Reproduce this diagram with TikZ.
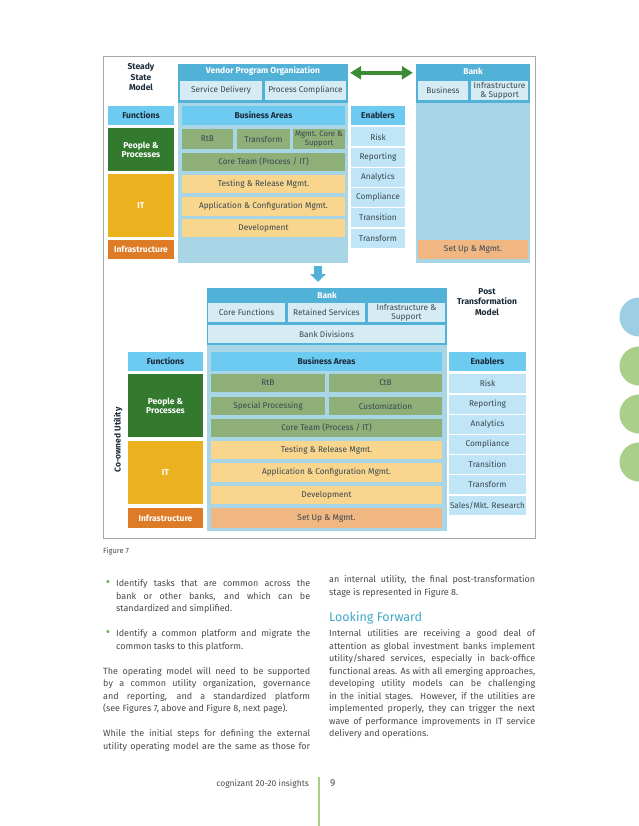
\documentclass[tikz,border=0pt]{standalone}
\usepackage{fontspec}
\setmainfont{Fira Sans}
\usetikzlibrary{arrows.meta}

\definecolor{midblue}{HTML}{52B1D6}
\definecolor{colblue}{HTML}{A8D6E7}
\definecolor{subblue}{HTML}{D6ECF4}
\definecolor{headblue}{HTML}{6DCBF1}
\definecolor{enablerblue}{HTML}{BFE5F6}
\definecolor{dkgreen}{HTML}{347A2E}
\definecolor{sage}{HTML}{8FAF79}
\definecolor{gold}{HTML}{EBB11F}
\definecolor{infraorange}{HTML}{DE7B27}
\definecolor{paleyellow}{HTML}{F8D68D}
\definecolor{salmon}{HTML}{F0B783}
\definecolor{linkgreen}{HTML}{3C8B35}
\definecolor{boxtext}{HTML}{3A4650}
\definecolor{navy}{HTML}{1B2B3A}
\definecolor{framegray}{HTML}{A8A8A8}
\definecolor{bodygray}{HTML}{4A4A4A}
\definecolor{teal}{HTML}{3FA9C9}
\definecolor{dotblue}{HTML}{9DCFE4}
\definecolor{dotgreen}{HTML}{A9CF8B}
\definecolor{bulletgreen}{HTML}{6DB24F}

\begin{document}
\begin{tikzpicture}[x=1pt, y=-1pt,
    sz/.style 2 args={minimum width=#1pt, minimum height=#2pt},
    box/.style={inner sep=0pt, align=center, text=boxtext, font=\fontsize{8.3}{9}\selectfont},
    boldbox/.style={box, font=\fontsize{8.5}{9}\selectfont\bfseries},
    band/.style={box, fill=midblue},
    column/.style={box, fill=colblue},
    subbox/.style={box, fill=subblue},
    headbox/.style={boldbox, fill=headblue, text=navy},
    enabler/.style={box, fill=enablerblue},
    greenrow/.style={box, fill=sage},
    yellowrow/.style={box, fill=paleyellow},
    setup/.style={box, fill=salmon},
    funcbox/.style={boldbox, text=white},
    bandtext/.style={boldbox, text=white},
    modeltext/.style={boldbox, text=navy, font=\fontsize{8.5}{10.5}\selectfont\bfseries},
    bodytext/.style={inner sep=0pt, text width=207pt, align=justify, text=bodygray, font=\fontsize{9}{12.5}\selectfont},
    linkarrow/.style={linkgreen, line width=4.5pt, {Triangle[width=13pt,length=11pt]}-{Triangle[width=13pt,length=11pt]}},
    flowarrow/.style={midblue, line width=8pt, -{Triangle[width=15pt,length=8pt]}}]
  \fill[white] (0,0) rectangle (638,826);
  \useasboundingbox (0,0) rectangle (638,826);
  \draw[framegray, line width=0.8pt] (103,56) rectangle (535,538);
  % steady state model
  \node[modeltext] (steadylbl) at (141,77) {Steady\\State\\Model};
  \node[band, sz={170}{39}] (vpo) at (263,83.5) {};
  \node[bandtext] (vpohead) at (263,71) {Vendor Program Organization};
  \node[subbox, sz={82}{19}] (servdel) at (221,90.5) {Service Delivery};
  \node[subbox, sz={81}{19}] (proccomp) at (305.5,90.5) {Process Compliance};
  \node[column, sz={170}{160}] (vpocol) at (263,183) {};
  \node[headbox, sz={66}{19}] (functop) at (141,115.5) {Functions};
  \node[funcbox, fill=dkgreen, sz={66}{43}] (peopletop) at (141,149.5) {People \&\\Processes};
  \node[funcbox, fill=gold, sz={66}{63}] (ittop) at (141,205.5) {IT};
  \node[funcbox, fill=infraorange, sz={66}{19}] (infratop) at (141,249.5) {Infrastructure};
  \node[headbox, sz={163}{19}] (areastop) at (263.5,115.5) {Business Areas};
  \node[greenrow, sz={51}{20}] (rtbtop) at (207.5,139) {RtB};
  \node[greenrow, sz={53}{20}] (transtop) at (263.5,139) {Transform};
  \node[greenrow, sz={52}{20}, font=\fontsize{7.8}{9}\selectfont] (mgmttop) at (319,139) {Mgmt. Core \&\\Support};
  \node[greenrow, sz={163}{18}] (coretop) at (263.5,162) {Core Team (Process / IT)};
  \node[yellowrow, sz={163}{18}] (testtop) at (263.5,184) {Testing \& Release Mgmt.};
  \node[yellowrow, sz={163}{19}] (apptop) at (263.5,206.5) {Application \& Configuration Mgmt.};
  \node[yellowrow, sz={163}{18}] (devtop) at (263.5,228) {Development};
  \node[headbox, sz={54}{19}] (enabtop) at (378,115.5) {Enablers};
  \node[enabler, sz={54}{19}] (risktop) at (378,137) {Risk};
  \node[enabler, sz={54}{19}] (reptop) at (378,157.5) {Reporting};
  \node[enabler, sz={54}{19}] (analtop) at (378,177.5) {Analytics};
  \node[enabler, sz={54}{19}] (comptop) at (378,197.5) {Compliance};
  \node[enabler, sz={54}{19}] (transitop) at (378,217.5) {Transition};
  \node[enabler, sz={54}{19}] (transftop) at (378,238) {Transform};
  \node[band, sz={114}{39}] (bank) at (473,83.5) {};
  \node[bandtext] (bankhead) at (473,71) {Bank};
  \node[subbox, sz={50}{19}] (business) at (443,90.5) {Business};
  \node[subbox, sz={57}{19}] (infsuptop) at (499.5,90.5) {Infrastructure\\\& Support};
  \node[column, sz={114}{160}] (bankcol) at (473,183) {};
  \node[setup, sz={110}{19}] (setuptop) at (473,249.5) {Set Up \& Mgmt.};
  \draw[linkarrow] ([xshift=2pt,yshift=-9pt]vpo.north east) -- ([xshift=-3pt,yshift=-9pt]bank.north west);
  % post transformation model
  \coordinate (flowtop) at (318,266);
  \coordinate (flowend) at (318,282);
  \draw[flowarrow] (flowtop) -- (flowend);
  \node[band, sz={240}{57}] (bankpost) at (327,316.5) {};
  \node[bandtext] (bankposthead) at (327,295) {Bank};
  \node[subbox, sz={77}{19}] (corefn) at (246.5,312.5) {Core Functions};
  \node[subbox, sz={77}{19}] (retained) at (326.5,312.5) {Retained Services};
  \node[subbox, sz={77}{19}] (infsuppost) at (406.5,312.5) {Infrastructure \&\\Support};
  \node[subbox, sz={237}{18}] (divisions) at (326.5,334) {Bank Divisions};
  \node[column, sz={240}{186}] (bankpostcol) at (327,438) {};
  \node[modeltext] (postlbl) at (487,302) {Post\\Transformation\\Model};
  \node[boldbox, text=navy, rotate=90] (coowned) at (118,440) {Co-owned Utility};
  \node[headbox, sz={75}{19}] (funcpost) at (165.5,361.5) {Functions};
  \node[funcbox, fill=dkgreen, sz={75}{63}] (peoplepost) at (165.5,405.5) {People \&\\Processes};
  \node[funcbox, fill=gold, sz={75}{63}] (itpost) at (165.5,472.5) {IT};
  \node[funcbox, fill=infraorange, sz={75}{20}] (infrapost) at (165.5,518) {Infrastructure};
  \node[headbox, sz={231}{19}] (areaspost) at (326.5,361.5) {Business Areas};
  \node[greenrow, sz={114}{18}] (rtbpost) at (268,383) {RtB};
  \node[greenrow, sz={113}{18}] (ctbpost) at (385.5,383) {CtB};
  \node[greenrow, sz={114}{18}] (special) at (268,406) {Special Processing};
  \node[greenrow, sz={113}{18}] (custom) at (385.5,406) {Customization};
  \node[greenrow, sz={231}{18}] (corepost) at (326.5,428) {Core Team (Process / IT)};
  \node[yellowrow, sz={231}{18}] (testpost) at (326.5,450) {Testing \& Release Mgmt.};
  \node[yellowrow, sz={231}{19}] (apppost) at (326.5,472.5) {Application \& Configuration Mgmt.};
  \node[yellowrow, sz={231}{18}] (devpost) at (326.5,495) {Development};
  \node[setup, sz={231}{20}] (setuppost) at (326.5,518) {Set Up \& Mgmt.};
  \node[headbox, sz={77}{19}] (enabpost) at (487.5,361.5) {Enablers};
  \node[enabler, sz={77}{19}] (riskpost) at (487.5,383.5) {Risk};
  \node[enabler, sz={77}{19}] (reppost) at (487.5,404) {Reporting};
  \node[enabler, sz={77}{19}] (analpost) at (487.5,424) {Analytics};
  \node[enabler, sz={77}{19}] (comppost) at (487.5,444) {Compliance};
  \node[enabler, sz={77}{19}] (transipost) at (487.5,464.5) {Transition};
  \node[enabler, sz={77}{19}] (transfpost) at (487.5,484.5) {Transform};
  \node[enabler, sz={77}{19}, font=\fontsize{8.1}{9}\selectfont] (salespost) at (487.5,505.5) {Sales/Mkt. Research};
  % page text
  \node[inner sep=0pt, anchor=base west, text=bodygray, font=\fontsize{7.5}{9}\selectfont] (figlbl) at (103,553.5) {Figure 7};
  \node[bodytext, anchor=base west] (leftcol) at (103,586.5) {\setlength{\parskip}{12.5pt}%
    {\leftskip=13pt \leavevmode\llap{\textcolor{bulletgreen}{\fontsize{13}{12}\selectfont\textbullet}\hspace{6pt}}Identify tasks that are common across the\linebreak bank or other banks, and which can be\linebreak standardized and simplified.\par}%
    {\leftskip=13pt \leavevmode\llap{\textcolor{bulletgreen}{\fontsize{13}{12}\selectfont\textbullet}\hspace{6pt}}Identify a common platform and migrate the\linebreak common tasks to this platform.\par}%
    The operating model will need to be supported\linebreak by a common utility organization, governance\linebreak and reporting, and a standardized platform\linebreak (see Figures 7, above and Figure 8, next page).\par
    {\parfillskip=0pt While the initial steps for defining the external\linebreak utility operating model are the same as those for\par}};
  \node[bodytext, text width=206pt, anchor=base west] (rightcol) at (329,582.5) {an internal utility, the final post-transformation\linebreak stage is represented in Figure 8.};
  \node[inner sep=0pt, anchor=base west, text=teal, font=\fontsize{12.5}{14}\selectfont] (fwdhead) at (329,621.5) {Looking Forward};
  \node[bodytext, text width=206pt, anchor=base west] (fwdtext) at (329,636.5) {Internal utilities are receiving a good deal of\linebreak attention as global investment banks implement\linebreak utility/shared services, especially in back-office\linebreak functional areas. As with all emerging approaches,\linebreak developing utility models can be challenging\linebreak in the initial stages. However, if the utilities are\linebreak implemented properly, they can trigger the next\linebreak wave of performance improvements in IT service\linebreak delivery and operations.};
  \node[inner sep=0pt, anchor=base east, text=bodygray, font=\fontsize{8.5}{10}\selectfont] (footlbl) at (309,786) {cognizant 20-20 insights};
  \node[inner sep=0pt, anchor=base west, text=bodygray, font=\fontsize{10}{12}\selectfont] (pagenum) at (330,786.5) {9};
  \draw[dotgreen, line width=1.2pt] (319,777) -- (319,826);
  \fill[dotblue] (639,317) circle[radius=19.5pt];
  \fill[dotgreen] (639,366) circle[radius=19.5pt];
  \fill[dotgreen] (639,414) circle[radius=19.5pt];
  \fill[dotgreen] (639,462) circle[radius=19.5pt];
\end{tikzpicture}
\end{document}
